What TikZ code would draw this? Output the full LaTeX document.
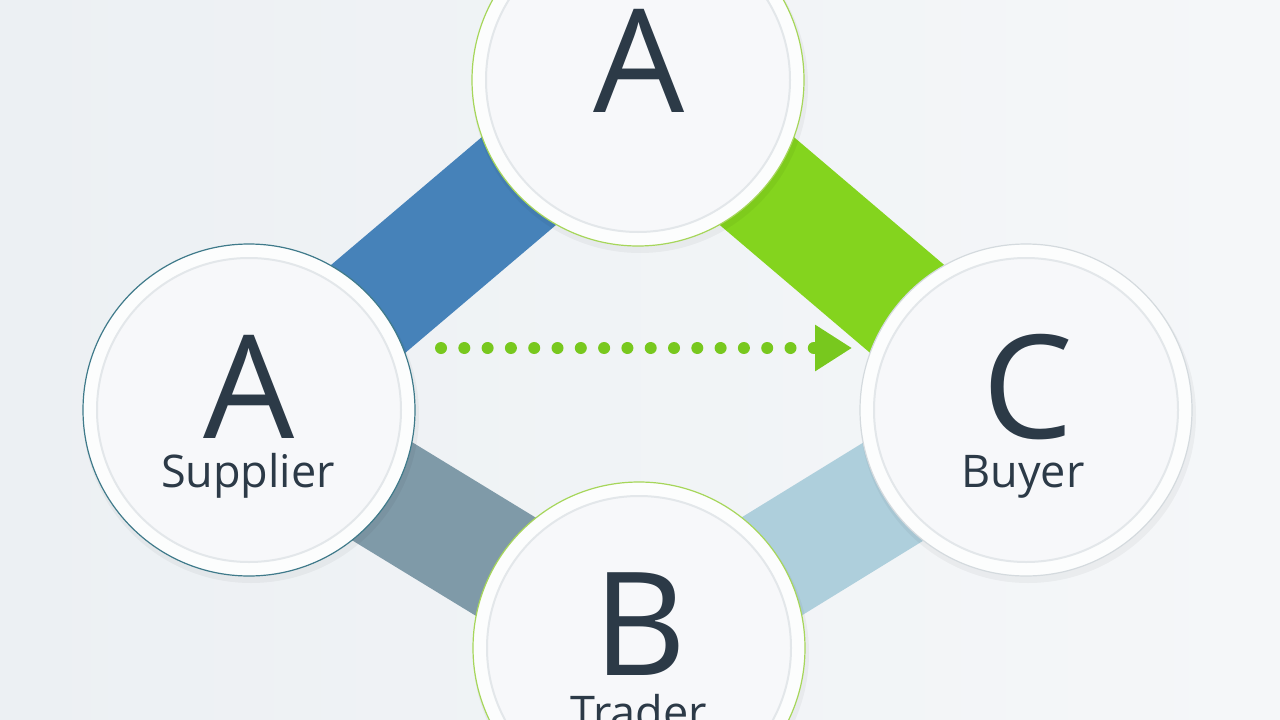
\documentclass[tikz,border=0pt]{standalone}
\usepackage{fontspec}
\setmainfont{Open Sans}
\usetikzlibrary{arrows.meta}
\definecolor{bgl}{HTML}{ECF0F3}
\definecolor{bgr}{HTML}{F5F7F9}
\definecolor{bandblue}{HTML}{4682B9}
\definecolor{bandgreen}{HTML}{84D41E}
\definecolor{bandgray}{HTML}{7F9AA8}
\definecolor{bandlight}{HTML}{AECFDC}
\definecolor{dotgreen}{HTML}{78C81E}
\definecolor{txt}{HTML}{2C3A47}
\definecolor{ringgreen}{HTML}{A6D65A}
\definecolor{ringteal}{HTML}{3F7A8A}
\definecolor{ringgray}{HTML}{D4DADE}
\definecolor{discfill}{HTML}{FCFDFD}
\definecolor{innerfill}{HTML}{F7F8FA}
\definecolor{inneredge}{HTML}{E3E7EA}
\tikzset{
  band/.style={line width=115pt},
  disc/.style={circle, minimum size=332pt, inner sep=0pt, fill=discfill, line width=1.2pt},
  innerdisc/.style={circle, minimum size=304pt, inner sep=0pt, fill=innerfill, draw=inneredge, line width=2pt},
  discshadow/.style={circle, minimum size=336pt, inner sep=0pt, fill=black, fill opacity=0.04},
  bigletter/.style={anchor=base, text=txt, font=\fontsize{144}{144}\selectfont},
  caption/.style={anchor=base, text=txt, font=\fontsize{45}{45}\selectfont},
  flow/.style={dotgreen, line width=12pt, line cap=round, dash pattern=on 0pt off 23.3pt,
    -{Triangle[length=37pt,width=44pt]}}
}
\begin{document}
\begin{tikzpicture}[x=1pt,y=-1pt]
\useasboundingbox (0,0) rectangle (1280,720);
\begin{scope}
\clip (0,0) rectangle (1280,720);
\shade[left color=bgl, right color=bgr] (0,0) rectangle (1280,720);
\coordinate (cT) at (638,80);
\coordinate (cL) at (249,410);
\coordinate (cR) at (1026,410);
\coordinate (cB) at (639,648);
% bands
\draw[band, bandblue] (cL) -- (cT);
\draw[band, bandgreen] (cT) -- (cR);
\draw[band, bandgray] (cL) -- (cB);
\draw[band, bandlight] (cB) -- (cR);
% shadows
\node[discshadow] (sT) at ([shift={(2,5)}]cT) {};
\node[discshadow] (sL) at ([shift={(2,5)}]cL) {};
\node[discshadow] (sR) at ([shift={(2,5)}]cR) {};
\node[discshadow] (sB) at ([shift={(2,5)}]cB) {};
% circles
\node[disc, draw=ringgreen] (top) at (cT) {};
\node[disc, draw=ringteal] (left) at (cL) {};
\node[disc, draw=ringgray] (right) at (cR) {};
\node[disc, draw=ringgreen] (bottom) at (cB) {};
\node[innerdisc] (topin) at (cT) {};
\node[innerdisc] (leftin) at (cL) {};
\node[innerdisc] (rightin) at (cR) {};
\node[innerdisc] (bottomin) at (cB) {};
% texts
\node[bigletter] (tA) at (639,112) {A};
\node[bigletter] (lA) at (249,438) {A};
\node[caption] (lS) at (248,487) {Supplier};
\node[bigletter] (rC) at (1028,438) {C};
\node[caption] (rB) at (1023,487) {Buyer};
\node[bigletter] (bB) at (640,675) {B};
\node[caption] (bT) at (639,728) {Trader};
% dotted arrow
\coordinate (ds) at (441,348);
\coordinate (de) at (852,348);
\draw[flow] (ds) -- (de);
\end{scope}
\end{tikzpicture}
\end{document}
